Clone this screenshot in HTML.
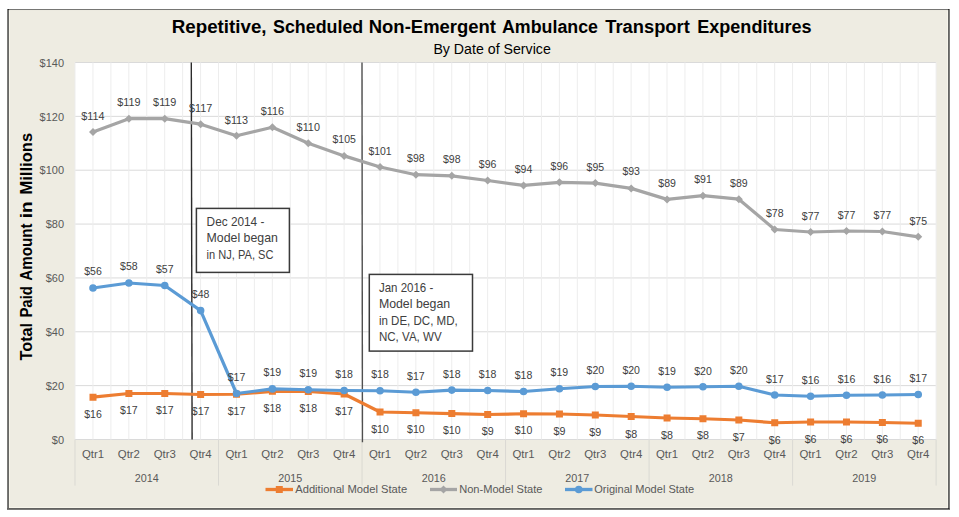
<!DOCTYPE html>
<html><head><meta charset="utf-8"><title>Chart</title>
<style>
html,body{margin:0;padding:0;background:#fff;}
body{width:959px;height:517px;overflow:hidden;font-family:"Liberation Sans",sans-serif;}
svg{display:block;}
text{font-family:"Liberation Sans",sans-serif;}
</style></head><body>
<svg width="959" height="517" viewBox="0 0 959 517">
<rect x="0" y="0" width="959" height="517" fill="#fff"/>
<rect x="7" y="9" width="943" height="501" fill="#EEECE2"/>
<rect x="9" y="10" width="938" height="497" fill="none" stroke="#F7F5EB" stroke-width="1" transform="translate(0.5,0.5)"/>
<rect x="7" y="9" width="1" height="501" fill="#7a7a78"/><rect x="8" y="9" width="1" height="501" fill="#696967"/>
<rect x="948" y="9" width="1" height="501" fill="#646462"/><rect x="949" y="9" width="1" height="501" fill="#7c7c7a"/>
<rect x="7" y="9" width="943" height="1" fill="#767674"/><rect x="9" y="10" width="939" height="1" fill="#E4E2D8" opacity="0.6"/>
<rect x="7" y="508" width="943" height="1" fill="#626260"/><rect x="7" y="509" width="943" height="1" fill="#787876"/>
<rect x="8" y="9" width="1" height="1" fill="#2a2a2a"/><rect x="948" y="9" width="1" height="1" fill="#2a2a2a"/><rect x="948" y="508" width="1" height="1" fill="#2a2a2a"/>
<rect x="75.0" y="62.5" width="861.15" height="377.0" fill="#fff"/>
<path d="M75.0 439.50H936.15M75.0 385.64H936.15M75.0 331.79H936.15M75.0 277.93H936.15M75.0 224.07H936.15M75.0 170.21H936.15M75.0 116.36H936.15M75.0 62.50H936.15" stroke="#DADADA" stroke-width="1" fill="none"/>
<path d="M75.00 62.5V439.5M92.94 62.5V439.5M110.88 62.5V439.5M128.82 62.5V439.5M146.76 62.5V439.5M164.70 62.5V439.5M182.64 62.5V439.5M200.58 62.5V439.5M218.52 62.5V439.5M236.46 62.5V439.5M254.40 62.5V439.5M272.34 62.5V439.5M290.28 62.5V439.5M308.22 62.5V439.5M326.16 62.5V439.5M344.10 62.5V439.5M362.04 62.5V439.5M379.98 62.5V439.5M397.92 62.5V439.5M415.86 62.5V439.5M433.80 62.5V439.5M451.74 62.5V439.5M469.68 62.5V439.5M487.62 62.5V439.5M505.56 62.5V439.5M523.50 62.5V439.5M541.44 62.5V439.5M559.38 62.5V439.5M577.32 62.5V439.5M595.26 62.5V439.5M613.20 62.5V439.5M631.14 62.5V439.5M649.08 62.5V439.5M667.02 62.5V439.5M684.96 62.5V439.5M702.90 62.5V439.5M720.84 62.5V439.5M738.78 62.5V439.5M756.72 62.5V439.5M774.66 62.5V439.5M792.60 62.5V439.5M810.54 62.5V439.5M828.48 62.5V439.5M846.42 62.5V439.5M864.36 62.5V439.5M882.30 62.5V439.5M900.24 62.5V439.5M918.18 62.5V439.5M936.12 62.5V439.5" stroke="#EDEDED" stroke-width="1" fill="none"/>
<path d="M75.00 439.5V485.6M218.52 439.5V485.6M362.04 439.5V485.6M505.56 439.5V485.6M649.08 439.5V485.6M792.60 439.5V485.6M936.12 439.5V485.6" stroke="#DAD9D3" stroke-width="1" fill="none"/>
<path d="M191.3 62.5L192.1 439.5" stroke="#2b2b2b" stroke-width="1.4" fill="none"/>
<path d="M362.0 62.5L362.45 442.2" stroke="#505050" stroke-width="1.4" fill="none"/>
<polyline points="93.00,132.00 128.88,118.70 164.76,118.70 200.64,124.20 236.52,135.80 272.40,127.30 308.28,143.30 344.16,155.90 380.04,167.00 415.92,174.70 451.80,175.80 487.68,180.50 523.56,185.40 559.44,182.30 595.32,183.10 631.20,188.40 667.08,199.40 702.96,195.70 738.84,199.20 774.72,229.50 810.60,232.00 846.48,231.00 882.36,231.50 918.24,236.80" fill="none" stroke="#A5A5A5" stroke-width="3.2" stroke-linejoin="round" stroke-linecap="round"/>
<path d="M93.00 128.00l4 4l-4 4l-4 -4zM128.88 114.70l4 4l-4 4l-4 -4zM164.76 114.70l4 4l-4 4l-4 -4zM200.64 120.20l4 4l-4 4l-4 -4zM236.52 131.80l4 4l-4 4l-4 -4zM272.40 123.30l4 4l-4 4l-4 -4zM308.28 139.30l4 4l-4 4l-4 -4zM344.16 151.90l4 4l-4 4l-4 -4zM380.04 163.00l4 4l-4 4l-4 -4zM415.92 170.70l4 4l-4 4l-4 -4zM451.80 171.80l4 4l-4 4l-4 -4zM487.68 176.50l4 4l-4 4l-4 -4zM523.56 181.40l4 4l-4 4l-4 -4zM559.44 178.30l4 4l-4 4l-4 -4zM595.32 179.10l4 4l-4 4l-4 -4zM631.20 184.40l4 4l-4 4l-4 -4zM667.08 195.40l4 4l-4 4l-4 -4zM702.96 191.70l4 4l-4 4l-4 -4zM738.84 195.20l4 4l-4 4l-4 -4zM774.72 225.50l4 4l-4 4l-4 -4zM810.60 228.00l4 4l-4 4l-4 -4zM846.48 227.00l4 4l-4 4l-4 -4zM882.36 227.50l4 4l-4 4l-4 -4zM918.24 232.80l4 4l-4 4l-4 -4z" fill="#A5A5A5"/>
<polyline points="93.00,397.20 128.88,393.50 164.76,393.50 200.64,394.50 236.52,394.25 272.40,391.30 308.28,391.50 344.16,394.00 380.04,412.00 415.92,412.75 451.80,413.60 487.68,414.50 523.56,413.75 559.44,414.00 595.32,415.00 631.20,416.50 667.08,418.00 702.96,418.75 738.84,420.00 774.72,422.75 810.60,422.00 846.48,422.00 882.36,422.50 918.24,423.25" fill="none" stroke="#ED7D31" stroke-width="3.2" stroke-linejoin="round" stroke-linecap="round"/>
<path d="M89.50 393.70h7v7h-7zM125.38 390.00h7v7h-7zM161.26 390.00h7v7h-7zM197.14 391.00h7v7h-7zM233.02 390.75h7v7h-7zM268.90 387.80h7v7h-7zM304.78 388.00h7v7h-7zM340.66 390.50h7v7h-7zM376.54 408.50h7v7h-7zM412.42 409.25h7v7h-7zM448.30 410.10h7v7h-7zM484.18 411.00h7v7h-7zM520.06 410.25h7v7h-7zM555.94 410.50h7v7h-7zM591.82 411.50h7v7h-7zM627.70 413.00h7v7h-7zM663.58 414.50h7v7h-7zM699.46 415.25h7v7h-7zM735.34 416.50h7v7h-7zM771.22 419.25h7v7h-7zM807.10 418.50h7v7h-7zM842.98 418.50h7v7h-7zM878.86 419.00h7v7h-7zM914.74 419.75h7v7h-7z" fill="#ED7D31"/>
<polyline points="93.00,288.00 128.88,283.00 164.76,285.50 200.64,310.60 236.52,393.50 272.40,388.90 308.28,389.75 344.16,390.50 380.04,390.75 415.92,392.25 451.80,390.10 487.68,390.50 523.56,391.50 559.44,388.75 595.32,386.50 631.20,386.25 667.08,387.25 702.96,386.75 738.84,386.25 774.72,395.00 810.60,396.25 846.48,395.25 882.36,395.00 918.24,394.50" fill="none" stroke="#5B9BD5" stroke-width="3.2" stroke-linejoin="round" stroke-linecap="round"/>
<path d="M89.20 288.00a3.8 3.8 0 1 0 7.6 0a3.8 3.8 0 1 0 -7.6 0zM125.08 283.00a3.8 3.8 0 1 0 7.6 0a3.8 3.8 0 1 0 -7.6 0zM160.96 285.50a3.8 3.8 0 1 0 7.6 0a3.8 3.8 0 1 0 -7.6 0zM196.84 310.60a3.8 3.8 0 1 0 7.6 0a3.8 3.8 0 1 0 -7.6 0zM232.72 393.50a3.8 3.8 0 1 0 7.6 0a3.8 3.8 0 1 0 -7.6 0zM268.60 388.90a3.8 3.8 0 1 0 7.6 0a3.8 3.8 0 1 0 -7.6 0zM304.48 389.75a3.8 3.8 0 1 0 7.6 0a3.8 3.8 0 1 0 -7.6 0zM340.36 390.50a3.8 3.8 0 1 0 7.6 0a3.8 3.8 0 1 0 -7.6 0zM376.24 390.75a3.8 3.8 0 1 0 7.6 0a3.8 3.8 0 1 0 -7.6 0zM412.12 392.25a3.8 3.8 0 1 0 7.6 0a3.8 3.8 0 1 0 -7.6 0zM448.00 390.10a3.8 3.8 0 1 0 7.6 0a3.8 3.8 0 1 0 -7.6 0zM483.88 390.50a3.8 3.8 0 1 0 7.6 0a3.8 3.8 0 1 0 -7.6 0zM519.76 391.50a3.8 3.8 0 1 0 7.6 0a3.8 3.8 0 1 0 -7.6 0zM555.64 388.75a3.8 3.8 0 1 0 7.6 0a3.8 3.8 0 1 0 -7.6 0zM591.52 386.50a3.8 3.8 0 1 0 7.6 0a3.8 3.8 0 1 0 -7.6 0zM627.40 386.25a3.8 3.8 0 1 0 7.6 0a3.8 3.8 0 1 0 -7.6 0zM663.28 387.25a3.8 3.8 0 1 0 7.6 0a3.8 3.8 0 1 0 -7.6 0zM699.16 386.75a3.8 3.8 0 1 0 7.6 0a3.8 3.8 0 1 0 -7.6 0zM735.04 386.25a3.8 3.8 0 1 0 7.6 0a3.8 3.8 0 1 0 -7.6 0zM770.92 395.00a3.8 3.8 0 1 0 7.6 0a3.8 3.8 0 1 0 -7.6 0zM806.80 396.25a3.8 3.8 0 1 0 7.6 0a3.8 3.8 0 1 0 -7.6 0zM842.68 395.25a3.8 3.8 0 1 0 7.6 0a3.8 3.8 0 1 0 -7.6 0zM878.56 395.00a3.8 3.8 0 1 0 7.6 0a3.8 3.8 0 1 0 -7.6 0zM914.44 394.50a3.8 3.8 0 1 0 7.6 0a3.8 3.8 0 1 0 -7.6 0z" fill="#5B9BD5"/>
<rect x="196.4" y="208.4" width="93" height="64" fill="#fff" stroke="#3a3a3a" stroke-width="1.5"/>
<rect x="369.3" y="274.4" width="103.2" height="76.7" fill="#fff" stroke="#3a3a3a" stroke-width="1.5"/>
<text x="206.60" y="226.30" font-size="12.2" fill="#404040" textLength="57.80" lengthAdjust="spacingAndGlyphs">Dec 2014 -</text>
<text x="206.60" y="242.10" font-size="12.2" fill="#404040" textLength="71.30" lengthAdjust="spacingAndGlyphs">Model began</text>
<text x="206.60" y="259.10" font-size="12.2" fill="#404040" textLength="66.90" lengthAdjust="spacingAndGlyphs">in NJ, PA, SC</text>
<text x="378.90" y="292.30" font-size="12.2" fill="#404040" textLength="54.40" lengthAdjust="spacingAndGlyphs">Jan 2016 -</text>
<text x="378.90" y="308.20" font-size="12.2" fill="#404040" textLength="71.30" lengthAdjust="spacingAndGlyphs">Model began</text>
<text x="378.90" y="325.10" font-size="12.2" fill="#404040" textLength="78.80" lengthAdjust="spacingAndGlyphs">in DE, DC, MD,</text>
<text x="378.90" y="341.10" font-size="12.2" fill="#404040" textLength="62.80" lengthAdjust="spacingAndGlyphs">NC, VA, WV</text>
<text x="81.35" y="120.10" font-size="10.5" fill="#404040" textLength="23.30" lengthAdjust="spacingAndGlyphs">$114</text>
<text x="117.23" y="106.00" font-size="10.5" fill="#404040" textLength="23.30" lengthAdjust="spacingAndGlyphs">$119</text>
<text x="153.11" y="106.00" font-size="10.5" fill="#404040" textLength="23.30" lengthAdjust="spacingAndGlyphs">$119</text>
<text x="188.99" y="111.90" font-size="10.5" fill="#404040" textLength="23.30" lengthAdjust="spacingAndGlyphs">$117</text>
<text x="224.87" y="123.50" font-size="10.5" fill="#404040" textLength="23.30" lengthAdjust="spacingAndGlyphs">$113</text>
<text x="260.75" y="115.00" font-size="10.5" fill="#404040" textLength="23.30" lengthAdjust="spacingAndGlyphs">$116</text>
<text x="296.63" y="130.60" font-size="10.5" fill="#404040" textLength="23.30" lengthAdjust="spacingAndGlyphs">$110</text>
<text x="332.51" y="143.20" font-size="10.5" fill="#404040" textLength="23.30" lengthAdjust="spacingAndGlyphs">$105</text>
<text x="368.39" y="154.70" font-size="10.5" fill="#404040" textLength="23.30" lengthAdjust="spacingAndGlyphs">$101</text>
<text x="407.12" y="162.40" font-size="10.5" fill="#404040" textLength="17.60" lengthAdjust="spacingAndGlyphs">$98</text>
<text x="443.00" y="163.00" font-size="10.5" fill="#404040" textLength="17.60" lengthAdjust="spacingAndGlyphs">$98</text>
<text x="478.88" y="168.20" font-size="10.5" fill="#404040" textLength="17.60" lengthAdjust="spacingAndGlyphs">$96</text>
<text x="514.76" y="173.10" font-size="10.5" fill="#404040" textLength="17.60" lengthAdjust="spacingAndGlyphs">$94</text>
<text x="550.64" y="170.00" font-size="10.5" fill="#404040" textLength="17.60" lengthAdjust="spacingAndGlyphs">$96</text>
<text x="586.52" y="170.80" font-size="10.5" fill="#404040" textLength="17.60" lengthAdjust="spacingAndGlyphs">$95</text>
<text x="622.40" y="175.20" font-size="10.5" fill="#404040" textLength="17.60" lengthAdjust="spacingAndGlyphs">$93</text>
<text x="658.28" y="187.10" font-size="10.5" fill="#404040" textLength="17.60" lengthAdjust="spacingAndGlyphs">$89</text>
<text x="694.16" y="183.40" font-size="10.5" fill="#404040" textLength="17.60" lengthAdjust="spacingAndGlyphs">$91</text>
<text x="730.04" y="186.90" font-size="10.5" fill="#404040" textLength="17.60" lengthAdjust="spacingAndGlyphs">$89</text>
<text x="765.92" y="217.20" font-size="10.5" fill="#404040" textLength="17.60" lengthAdjust="spacingAndGlyphs">$78</text>
<text x="801.80" y="219.70" font-size="10.5" fill="#404040" textLength="17.60" lengthAdjust="spacingAndGlyphs">$77</text>
<text x="837.68" y="218.70" font-size="10.5" fill="#404040" textLength="17.60" lengthAdjust="spacingAndGlyphs">$77</text>
<text x="873.56" y="219.20" font-size="10.5" fill="#404040" textLength="17.60" lengthAdjust="spacingAndGlyphs">$77</text>
<text x="909.44" y="224.50" font-size="10.5" fill="#404040" textLength="17.60" lengthAdjust="spacingAndGlyphs">$75</text>
<text x="84.20" y="274.90" font-size="10.5" fill="#404040" textLength="17.60" lengthAdjust="spacingAndGlyphs">$56</text>
<text x="120.08" y="270.00" font-size="10.5" fill="#404040" textLength="17.60" lengthAdjust="spacingAndGlyphs">$58</text>
<text x="155.96" y="272.50" font-size="10.5" fill="#404040" textLength="17.60" lengthAdjust="spacingAndGlyphs">$57</text>
<text x="191.84" y="298.10" font-size="10.5" fill="#404040" textLength="17.60" lengthAdjust="spacingAndGlyphs">$48</text>
<text x="227.72" y="381.00" font-size="10.5" fill="#404040" textLength="17.60" lengthAdjust="spacingAndGlyphs">$17</text>
<text x="263.60" y="376.40" font-size="10.5" fill="#404040" textLength="17.60" lengthAdjust="spacingAndGlyphs">$19</text>
<text x="299.48" y="377.25" font-size="10.5" fill="#404040" textLength="17.60" lengthAdjust="spacingAndGlyphs">$19</text>
<text x="335.36" y="378.00" font-size="10.5" fill="#404040" textLength="17.60" lengthAdjust="spacingAndGlyphs">$18</text>
<text x="371.24" y="378.25" font-size="10.5" fill="#404040" textLength="17.60" lengthAdjust="spacingAndGlyphs">$18</text>
<text x="407.12" y="379.75" font-size="10.5" fill="#404040" textLength="17.60" lengthAdjust="spacingAndGlyphs">$17</text>
<text x="443.00" y="377.60" font-size="10.5" fill="#404040" textLength="17.60" lengthAdjust="spacingAndGlyphs">$18</text>
<text x="478.88" y="378.00" font-size="10.5" fill="#404040" textLength="17.60" lengthAdjust="spacingAndGlyphs">$18</text>
<text x="514.76" y="379.00" font-size="10.5" fill="#404040" textLength="17.60" lengthAdjust="spacingAndGlyphs">$18</text>
<text x="550.64" y="376.25" font-size="10.5" fill="#404040" textLength="17.60" lengthAdjust="spacingAndGlyphs">$19</text>
<text x="586.52" y="374.00" font-size="10.5" fill="#404040" textLength="17.60" lengthAdjust="spacingAndGlyphs">$20</text>
<text x="622.40" y="373.75" font-size="10.5" fill="#404040" textLength="17.60" lengthAdjust="spacingAndGlyphs">$20</text>
<text x="658.28" y="374.75" font-size="10.5" fill="#404040" textLength="17.60" lengthAdjust="spacingAndGlyphs">$19</text>
<text x="694.16" y="374.55" font-size="10.5" fill="#404040" textLength="17.60" lengthAdjust="spacingAndGlyphs">$20</text>
<text x="730.04" y="374.35" font-size="10.5" fill="#404040" textLength="17.60" lengthAdjust="spacingAndGlyphs">$20</text>
<text x="765.92" y="382.70" font-size="10.5" fill="#404040" textLength="17.60" lengthAdjust="spacingAndGlyphs">$17</text>
<text x="801.80" y="384.15" font-size="10.5" fill="#404040" textLength="17.60" lengthAdjust="spacingAndGlyphs">$16</text>
<text x="837.68" y="383.15" font-size="10.5" fill="#404040" textLength="17.60" lengthAdjust="spacingAndGlyphs">$16</text>
<text x="873.56" y="382.90" font-size="10.5" fill="#404040" textLength="17.60" lengthAdjust="spacingAndGlyphs">$16</text>
<text x="909.44" y="382.20" font-size="10.5" fill="#404040" textLength="17.60" lengthAdjust="spacingAndGlyphs">$17</text>
<text x="84.20" y="417.90" font-size="10.5" fill="#404040" textLength="17.60" lengthAdjust="spacingAndGlyphs">$16</text>
<text x="120.08" y="414.20" font-size="10.5" fill="#404040" textLength="17.60" lengthAdjust="spacingAndGlyphs">$17</text>
<text x="155.96" y="414.20" font-size="10.5" fill="#404040" textLength="17.60" lengthAdjust="spacingAndGlyphs">$17</text>
<text x="191.84" y="415.20" font-size="10.5" fill="#404040" textLength="17.60" lengthAdjust="spacingAndGlyphs">$17</text>
<text x="227.72" y="414.95" font-size="10.5" fill="#404040" textLength="17.60" lengthAdjust="spacingAndGlyphs">$17</text>
<text x="263.60" y="412.00" font-size="10.5" fill="#404040" textLength="17.60" lengthAdjust="spacingAndGlyphs">$18</text>
<text x="299.48" y="412.20" font-size="10.5" fill="#404040" textLength="17.60" lengthAdjust="spacingAndGlyphs">$18</text>
<text x="335.36" y="414.70" font-size="10.5" fill="#404040" textLength="17.60" lengthAdjust="spacingAndGlyphs">$17</text>
<text x="371.24" y="432.70" font-size="10.5" fill="#404040" textLength="17.60" lengthAdjust="spacingAndGlyphs">$10</text>
<text x="407.12" y="433.45" font-size="10.5" fill="#404040" textLength="17.60" lengthAdjust="spacingAndGlyphs">$10</text>
<text x="443.00" y="434.30" font-size="10.5" fill="#404040" textLength="17.60" lengthAdjust="spacingAndGlyphs">$10</text>
<text x="481.73" y="435.20" font-size="10.5" fill="#404040" textLength="11.90" lengthAdjust="spacingAndGlyphs">$9</text>
<text x="514.76" y="434.45" font-size="10.5" fill="#404040" textLength="17.60" lengthAdjust="spacingAndGlyphs">$10</text>
<text x="553.49" y="434.70" font-size="10.5" fill="#404040" textLength="11.90" lengthAdjust="spacingAndGlyphs">$9</text>
<text x="589.37" y="435.70" font-size="10.5" fill="#404040" textLength="11.90" lengthAdjust="spacingAndGlyphs">$9</text>
<text x="625.25" y="437.60" font-size="10.5" fill="#404040" textLength="11.90" lengthAdjust="spacingAndGlyphs">$8</text>
<text x="661.13" y="438.70" font-size="10.5" fill="#404040" textLength="11.90" lengthAdjust="spacingAndGlyphs">$8</text>
<text x="697.01" y="439.45" font-size="10.5" fill="#404040" textLength="11.90" lengthAdjust="spacingAndGlyphs">$8</text>
<text x="732.89" y="440.70" font-size="10.5" fill="#404040" textLength="11.90" lengthAdjust="spacingAndGlyphs">$7</text>
<text x="768.77" y="444.05" font-size="10.5" fill="#404040" textLength="11.90" lengthAdjust="spacingAndGlyphs">$6</text>
<text x="804.65" y="442.70" font-size="10.5" fill="#404040" textLength="11.90" lengthAdjust="spacingAndGlyphs">$6</text>
<text x="840.53" y="442.70" font-size="10.5" fill="#404040" textLength="11.90" lengthAdjust="spacingAndGlyphs">$6</text>
<text x="876.41" y="443.20" font-size="10.5" fill="#404040" textLength="11.90" lengthAdjust="spacingAndGlyphs">$6</text>
<text x="912.29" y="443.95" font-size="10.5" fill="#404040" textLength="11.90" lengthAdjust="spacingAndGlyphs">$6</text>
<text x="51.80" y="443.70" font-size="10.7" fill="#595959" textLength="12.20" lengthAdjust="spacingAndGlyphs">$0</text>
<text x="45.70" y="389.84" font-size="10.7" fill="#595959" textLength="18.30" lengthAdjust="spacingAndGlyphs">$20</text>
<text x="45.70" y="335.99" font-size="10.7" fill="#595959" textLength="18.30" lengthAdjust="spacingAndGlyphs">$40</text>
<text x="45.70" y="282.13" font-size="10.7" fill="#595959" textLength="18.30" lengthAdjust="spacingAndGlyphs">$60</text>
<text x="45.70" y="228.27" font-size="10.7" fill="#595959" textLength="18.30" lengthAdjust="spacingAndGlyphs">$80</text>
<text x="39.60" y="174.41" font-size="10.7" fill="#595959" textLength="24.40" lengthAdjust="spacingAndGlyphs">$100</text>
<text x="39.60" y="120.56" font-size="10.7" fill="#595959" textLength="24.40" lengthAdjust="spacingAndGlyphs">$120</text>
<text x="39.60" y="66.70" font-size="10.7" fill="#595959" textLength="24.40" lengthAdjust="spacingAndGlyphs">$140</text>
<text x="81.90" y="458.00" font-size="10.7" fill="#595959" textLength="22.20" lengthAdjust="spacingAndGlyphs">Qtr1</text>
<text x="117.78" y="458.00" font-size="10.7" fill="#595959" textLength="22.20" lengthAdjust="spacingAndGlyphs">Qtr2</text>
<text x="153.66" y="458.00" font-size="10.7" fill="#595959" textLength="22.20" lengthAdjust="spacingAndGlyphs">Qtr3</text>
<text x="189.54" y="458.00" font-size="10.7" fill="#595959" textLength="22.20" lengthAdjust="spacingAndGlyphs">Qtr4</text>
<text x="225.42" y="458.00" font-size="10.7" fill="#595959" textLength="22.20" lengthAdjust="spacingAndGlyphs">Qtr1</text>
<text x="261.30" y="458.00" font-size="10.7" fill="#595959" textLength="22.20" lengthAdjust="spacingAndGlyphs">Qtr2</text>
<text x="297.18" y="458.00" font-size="10.7" fill="#595959" textLength="22.20" lengthAdjust="spacingAndGlyphs">Qtr3</text>
<text x="333.06" y="458.00" font-size="10.7" fill="#595959" textLength="22.20" lengthAdjust="spacingAndGlyphs">Qtr4</text>
<text x="368.94" y="458.00" font-size="10.7" fill="#595959" textLength="22.20" lengthAdjust="spacingAndGlyphs">Qtr1</text>
<text x="404.82" y="458.00" font-size="10.7" fill="#595959" textLength="22.20" lengthAdjust="spacingAndGlyphs">Qtr2</text>
<text x="440.70" y="458.00" font-size="10.7" fill="#595959" textLength="22.20" lengthAdjust="spacingAndGlyphs">Qtr3</text>
<text x="476.58" y="458.00" font-size="10.7" fill="#595959" textLength="22.20" lengthAdjust="spacingAndGlyphs">Qtr4</text>
<text x="512.46" y="458.00" font-size="10.7" fill="#595959" textLength="22.20" lengthAdjust="spacingAndGlyphs">Qtr1</text>
<text x="548.34" y="458.00" font-size="10.7" fill="#595959" textLength="22.20" lengthAdjust="spacingAndGlyphs">Qtr2</text>
<text x="584.22" y="458.00" font-size="10.7" fill="#595959" textLength="22.20" lengthAdjust="spacingAndGlyphs">Qtr3</text>
<text x="620.10" y="458.00" font-size="10.7" fill="#595959" textLength="22.20" lengthAdjust="spacingAndGlyphs">Qtr4</text>
<text x="655.98" y="458.00" font-size="10.7" fill="#595959" textLength="22.20" lengthAdjust="spacingAndGlyphs">Qtr1</text>
<text x="691.86" y="458.00" font-size="10.7" fill="#595959" textLength="22.20" lengthAdjust="spacingAndGlyphs">Qtr2</text>
<text x="727.74" y="458.00" font-size="10.7" fill="#595959" textLength="22.20" lengthAdjust="spacingAndGlyphs">Qtr3</text>
<text x="763.62" y="458.00" font-size="10.7" fill="#595959" textLength="22.20" lengthAdjust="spacingAndGlyphs">Qtr4</text>
<text x="799.50" y="458.00" font-size="10.7" fill="#595959" textLength="22.20" lengthAdjust="spacingAndGlyphs">Qtr1</text>
<text x="835.38" y="458.00" font-size="10.7" fill="#595959" textLength="22.20" lengthAdjust="spacingAndGlyphs">Qtr2</text>
<text x="871.26" y="458.00" font-size="10.7" fill="#595959" textLength="22.20" lengthAdjust="spacingAndGlyphs">Qtr3</text>
<text x="907.14" y="458.00" font-size="10.7" fill="#595959" textLength="22.20" lengthAdjust="spacingAndGlyphs">Qtr4</text>
<text x="134.76" y="481.80" font-size="10.7" fill="#595959" textLength="24.00" lengthAdjust="spacingAndGlyphs">2014</text>
<text x="278.28" y="481.80" font-size="10.7" fill="#595959" textLength="24.00" lengthAdjust="spacingAndGlyphs">2015</text>
<text x="421.80" y="481.80" font-size="10.7" fill="#595959" textLength="24.00" lengthAdjust="spacingAndGlyphs">2016</text>
<text x="565.32" y="481.80" font-size="10.7" fill="#595959" textLength="24.00" lengthAdjust="spacingAndGlyphs">2017</text>
<text x="708.84" y="481.80" font-size="10.7" fill="#595959" textLength="24.00" lengthAdjust="spacingAndGlyphs">2018</text>
<text x="852.36" y="481.80" font-size="10.7" fill="#595959" textLength="24.00" lengthAdjust="spacingAndGlyphs">2019</text>
<text x="171.75" y="32.80" font-size="18.9" font-weight="bold" fill="#000" textLength="94.79" lengthAdjust="spacingAndGlyphs">Repetitive,</text>
<text x="273.00" y="32.80" font-size="18.9" font-weight="bold" fill="#000" textLength="90.26" lengthAdjust="spacingAndGlyphs">Scheduled</text>
<text x="368.75" y="32.80" font-size="18.9" font-weight="bold" fill="#000" textLength="127.26" lengthAdjust="spacingAndGlyphs">Non-Emergent</text>
<text x="502.00" y="32.80" font-size="18.9" font-weight="bold" fill="#000" textLength="96.00" lengthAdjust="spacingAndGlyphs">Ambulance</text>
<text x="605.25" y="32.80" font-size="18.9" font-weight="bold" fill="#000" textLength="84.50" lengthAdjust="spacingAndGlyphs">Transport</text>
<text x="697.25" y="32.80" font-size="18.9" font-weight="bold" fill="#000" textLength="114.27" lengthAdjust="spacingAndGlyphs">Expenditures</text>
<text x="433.40" y="53.50" font-size="13.8" fill="#000" textLength="117.40" lengthAdjust="spacingAndGlyphs">By Date of Service</text>
<text transform="translate(32.0,360.45) rotate(-90)" x="0" y="0" font-size="16.4" font-weight="bold" fill="#000" textLength="37.52" lengthAdjust="spacingAndGlyphs">Total</text>
<text transform="translate(32.0,317.60) rotate(-90)" x="0" y="0" font-size="16.4" font-weight="bold" fill="#000" textLength="31.56" lengthAdjust="spacingAndGlyphs">Paid</text>
<text transform="translate(32.0,280.70) rotate(-90)" x="0" y="0" font-size="16.4" font-weight="bold" fill="#000" textLength="57.25" lengthAdjust="spacingAndGlyphs">Amount</text>
<text transform="translate(32.0,218.35) rotate(-90)" x="0" y="0" font-size="16.4" font-weight="bold" fill="#000" textLength="16.96" lengthAdjust="spacingAndGlyphs">in</text>
<text transform="translate(32.0,194.60) rotate(-90)" x="0" y="0" font-size="16.4" font-weight="bold" fill="#000" textLength="61.77" lengthAdjust="spacingAndGlyphs">Millions</text>
<path d="M265.5 489.5H293" stroke="#ED7D31" stroke-width="3.3"/><rect x="275.8" y="486.0" width="7" height="7" fill="#ED7D31"/>
<text x="295.20" y="493.00" font-size="10.5" fill="#595959" textLength="112.00" lengthAdjust="spacingAndGlyphs">Additional Model State</text>
<path d="M430 489.5H457" stroke="#A5A5A5" stroke-width="3.3"/><path d="M443.5 485.5l4 4l-4 4l-4 -4z" fill="#A5A5A5"/>
<text x="459.20" y="493.00" font-size="10.5" fill="#595959" textLength="83.20" lengthAdjust="spacingAndGlyphs">Non-Model State</text>
<path d="M565 489.5H592.5" stroke="#5B9BD5" stroke-width="3.3"/><circle cx="578.75" cy="489.5" r="3.8" fill="#5B9BD5"/>
<text x="594.20" y="493.00" font-size="10.5" fill="#595959" textLength="100.00" lengthAdjust="spacingAndGlyphs">Original Model State</text>
</svg>
</body></html>
